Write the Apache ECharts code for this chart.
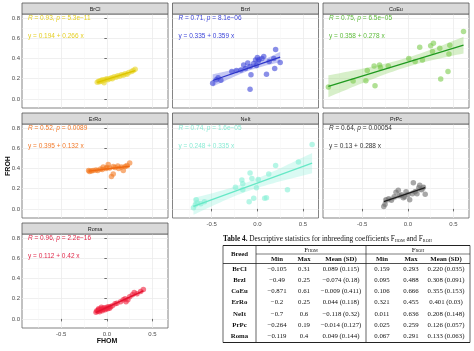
<!DOCTYPE html>
<html>
<head>
<meta charset="utf-8">
<script src="https://cdn.jsdelivr.net/npm/echarts@6/dist/echarts.min.js"></script>
<style>
  html, body { margin: 0; padding: 0; background: #fff; }
  #main { width: 474px; height: 351px; }
</style>
</head>
<body>
<div id="main"></div>
<script>
// ---- data ----
const breeds = ['BrCl', 'Brzl', 'CoEu', 'ErRo', 'NeIt', 'PrPc', 'Roma'];

// [FHOM, FROH] per animal
const brclPts = [[-0.105,0.165],[-0.09,0.175],[-0.08,0.17],[-0.07,0.18],[-0.06,0.176],[-0.05,0.19],[-0.04,0.18],[-0.03,0.159],[-0.02,0.192],[0.0,0.2],[0.01,0.19],[0.03,0.2],[0.05,0.21],[0.06,0.2],[0.08,0.22],[0.1,0.215],[0.12,0.23],[0.14,0.225],[0.16,0.24],[0.18,0.235],[0.2,0.25],[0.22,0.245],[0.24,0.26],[0.27,0.27],[0.29,0.28],[0.31,0.293]];
const brzlPts = [[-0.49,0.155],[-0.45,0.19],[-0.43,0.21],[-0.40,0.185],[-0.28,0.27],[-0.23,0.28],[-0.18,0.285],[-0.15,0.335],[-0.13,0.30],[-0.105,0.355],[-0.08,0.32],[-0.07,0.24],[-0.08,0.095],[-0.04,0.35],[-0.02,0.385],[0.0,0.41],[-0.01,0.33],[0.01,0.375],[0.02,0.39],[0.07,0.42],[0.10,0.245],[0.13,0.37],[0.20,0.488],[0.19,0.30],[0.25,0.36],[0.18,0.40],[0.05,0.40]];
const coeuPts = [[-0.871,0.118],[-0.60,0.177],[-0.46,0.18],[-0.445,0.28],[-0.37,0.325],[-0.36,0.13],[-0.31,0.335],[-0.30,0.31],[-0.215,0.325],[0.01,0.40],[0.08,0.37],[0.16,0.385],[0.13,0.51],[0.25,0.525],[0.28,0.55],[0.27,0.47],[0.35,0.50],[0.36,0.197],[0.44,0.27],[0.45,0.445],[0.46,0.53],[0.61,0.666]];
const erroPts = [[-0.20,0.38],[-0.19,0.37],[-0.17,0.375],[-0.15,0.38],[-0.12,0.385],[-0.10,0.38],[-0.07,0.395],[-0.05,0.39],[-0.04,0.415],[-0.01,0.40],[0.0,0.41],[0.015,0.44],[0.03,0.405],[0.05,0.321],[0.07,0.345],[0.07,0.42],[0.09,0.41],[0.12,0.425],[0.13,0.40],[0.16,0.415],[0.18,0.38],[0.2,0.42],[0.22,0.43],[0.25,0.455]];
const neitPts = [[-0.70,0.011],[-0.68,0.04],[-0.66,0.06],[-0.67,0.09],[-0.62,0.05],[-0.58,0.07],[-0.24,0.215],[-0.17,0.285],[-0.16,0.19],[-0.16,0.25],[-0.08,0.355],[-0.06,0.30],[-0.09,0.07],[-0.04,0.105],[-0.01,0.21],[0.01,0.29],[0.08,0.105],[0.10,0.11],[0.125,0.345],[0.2,0.43],[0.33,0.19],[0.45,0.465],[0.60,0.636]];
const prpcPts = [[-0.264,0.025],[-0.25,0.045],[-0.24,0.09],[-0.21,0.10],[-0.18,0.085],[-0.15,0.12],[-0.13,0.165],[-0.105,0.185],[-0.09,0.13],[-0.07,0.14],[-0.05,0.11],[-0.035,0.12],[-0.02,0.17],[0.0,0.14],[0.02,0.09],[0.05,0.15],[0.06,0.259],[0.08,0.17],[0.10,0.15],[0.12,0.21],[0.13,0.235],[0.15,0.19],[0.17,0.215],[0.19,0.145]];
const romaPts = [[-0.119,0.067],[-0.11,0.08],[-0.10,0.075],[-0.09,0.09],[-0.08,0.07],[-0.07,0.085],[-0.06,0.1],[-0.05,0.08],[-0.04,0.095],[-0.03,0.11],[-0.02,0.09],[-0.01,0.1],[0.0,0.115],[0.01,0.1],[0.02,0.12],[0.03,0.105],[-0.06,0.115],[-0.09,0.1],[0.04,0.12],[0.06,0.13],[0.09,0.15],[0.11,0.155],[0.15,0.17],[0.18,0.19],[0.2,0.2],[0.21,0.17],[0.23,0.19],[0.25,0.22],[0.28,0.24],[0.30,0.26],[0.33,0.25],[0.37,0.27],[0.4,0.291]];
const allPts = [brclPts, brzlPts, coeuPts, erroPts, neitPts, prpcPts, romaPts];

const corLabels = ['0.93|5.3e\u221211', '0.71|8.1e\u221206', '0.75|6.5e\u221205', '0.52|0.0089', '0.74|1.6e\u221205', '0.64|0.00054', '0.96|2.2e\u221216'];
const eqLabels = ['y = 0.194 + 0.266 x', 'y = 0.335 + 0.359 x', 'y = 0.358 + 0.278 x', 'y = 0.395 + 0.132 x', 'y = 0.248 + 0.335 x', 'y = 0.13 + 0.288 x', 'y = 0.112 + 0.42 x'];

const xTicks = [-0.5, 0, 0.5];
const yTicks = [0, 0.2, 0.4, 0.6, 0.8];

// table 4
const fhomMin  = ['\u22120.105', '\u22120.49', '\u22120.871', '\u22120.2', '\u22120.7', '\u22120.264', '\u22120.119'];
const fhomMax  = ['0.31', '0.25', '0.61', '0.25', '0.6', '0.19', '0.4'];
const fhomMean = ['0.089 (0.115)', '\u22120.074 (0.18)', '\u22120.009 (0.411)', '0.044 (0.118)', '\u22120.118 (0.32)', '\u22120.014 (0.127)', '0.049 (0.144)'];
const frohMin  = ['0.159', '0.095', '0.106', '0.321', '0.011', '0.025', '0.067'];
const frohMax  = ['0.293', '0.488', '0.666', '0.455', '0.636', '0.259', '0.291'];
const frohMean = ['0.220 (0.035)', '0.308 (0.091)', '0.355 (0.153)', '0.401 (0.03)', '0.208 (0.148)', '0.126 (0.057)', '0.133 (0.063)'];

// ---- styles ----
const pointColors = ['#E8D323', '#3C44D8', '#7CCB4C', '#F47A22', '#86F0D6', '#6E6E6E', '#F0213E'];
const lineColors  = ['#DCC400', '#2B33C8', '#1F991F', '#F06A12', '#66E8C6', '#1E1E1E', '#E3122F'];
const textColors  = ['#E5CF25', '#3C44D8', '#5DBB3A', '#F27A2A', '#8CEBD5', '#333333', '#E0294A'];

const colLeft = [22, 172.5, 323];
const rowTop = [3, 113, 223];
const stripH = 11, panelW = 146, panelH = 94;
const panelCol = [0, 1, 2, 0, 1, 2, 0];
const panelRow = [0, 0, 0, 1, 1, 1, 2];
const showX = [false, false, false, false, true, true, true];
const showY = [true, false, false, true, false, false, true];
const sans = 'Liberation Sans';
const serif = 'Liberation Serif';

// least squares fit with 95% band
function fitLine(p) {
  const n = p.length;
  let mx = 0, my = 0;
  p.forEach(d => { mx += d[0]; my += d[1]; });
  mx /= n; my /= n;
  let sxx = 0, sxy = 0;
  p.forEach(d => { sxx += (d[0] - mx) ** 2; sxy += (d[0] - mx) * (d[1] - my); });
  const b = sxy / sxx, a = my - b * mx;
  let ss = 0;
  p.forEach(d => { ss += (d[1] - a - b * d[0]) ** 2; });
  const s = Math.sqrt(ss / (n - 2));
  const t = 1.96 + 2.4 / (n - 2);
  const xs = p.map(d => d[0]);
  const x0 = Math.min(...xs), x1 = Math.max(...xs);
  const up = [], lo = [];
  for (let k = 0; k <= 40; k++) {
    const x = x0 + (x1 - x0) * k / 40;
    const se = s * Math.sqrt(1 / n + (x - mx) ** 2 / sxx);
    up.push([x, a + b * x + t * se]);
    lo.push([x, a + b * x - t * se]);
  }
  return { line: [[x0, a + b * x0], [x1, a + b * x1]], up, lo };
}

const grids = [], xAxes = [], yAxes = [], series = [], graphics = [];

breeds.forEach((name, i) => {
  const left = colLeft[panelCol[i]];
  const top = rowTop[panelRow[i]] + stripH;
  grids.push({ left, top, width: panelW, height: panelH, show: true,
    borderColor: '#666', borderWidth: 0.8, backgroundColor: '#fff' });
  xAxes.push({
    gridIndex: i, type: 'value', min: -0.93, max: 0.67, splitNumber: 3,
    axisLine: { show: false },
    axisTick: { show: showX[i], length: 2.5, customValues: xTicks, lineStyle: { color: '#333', width: 0.7 } },
    axisLabel: { show: showX[i], customValues: xTicks, fontSize: 6, fontFamily: sans, color: '#4D4D4D', margin: 3,
      formatter: v => v.toFixed(1) },
    splitLine: { lineStyle: { color: '#EBEBEB', width: 0.8 } },
    minorTick: { show: false, splitNumber: 2 },
    minorSplitLine: { show: true, lineStyle: { color: '#F4F4F4', width: 0.5 } }
  });
  yAxes.push({
    gridIndex: i, type: 'value', min: -0.09, max: 0.84, splitNumber: 5,
    axisLine: { show: false },
    axisTick: { show: showY[i], length: 2.5, customValues: yTicks, lineStyle: { color: '#333', width: 0.7 } },
    axisLabel: { show: showY[i], customValues: yTicks, fontSize: 6, fontFamily: sans, color: '#4D4D4D', margin: 2,
      formatter: v => v.toFixed(1) },
    splitLine: { lineStyle: { color: '#EBEBEB', width: 0.8 } },
    minorTick: { show: false, splitNumber: 2 },
    minorSplitLine: { show: true, lineStyle: { color: '#F4F4F4', width: 0.5 } }
  });

  const f = fitLine(allPts[i]);
  series.push({
    type: 'scatter', xAxisIndex: i, yAxisIndex: i, data: allPts[i], symbolSize: 5.5, silent: true,
    itemStyle: { color: pointColors[i], opacity: 0.6 }, z: 2
  });
  series.push({
    type: 'custom', xAxisIndex: i, yAxisIndex: i, data: [[0, 0]], silent: true, z: 3,
    renderItem: (params, api) => {
      const pts = f.up.map(d => api.coord(d)).concat(f.lo.slice().reverse().map(d => api.coord(d)));
      return { type: 'polygon', shape: { points: pts }, style: { fill: pointColors[i], opacity: 0.3 } };
    }
  });
  series.push({
    type: 'line', xAxisIndex: i, yAxisIndex: i, data: f.line, symbol: 'none', silent: true, z: 4,
    lineStyle: { color: lineColors[i], width: 1.3 }
  });

  // strip
  graphics.push({ type: 'rect', shape: { x: left, y: rowTop[panelRow[i]], width: panelW, height: stripH },
    style: { fill: '#D9D9D9', stroke: '#555', lineWidth: 0.8 }, z: 10 });
  graphics.push({ type: 'text', x: left + panelW / 2, y: rowTop[panelRow[i]] + stripH / 2 + 0.5,
    style: { text: name, fontSize: 5.5, fontFamily: sans, fill: '#1A1A1A', align: 'center', verticalAlign: 'middle' }, z: 11 });

  // stat labels
  const [r, p] = corLabels[i].split('|');
  graphics.push({ type: 'text', x: left + 6, y: top + 4.5,
    style: { text: '{i|R} = ' + r + ', {i|p} = ' + p, fontSize: 6.5, fontFamily: sans, fill: textColors[i],
      verticalAlign: 'middle', rich: { i: { fontStyle: 'italic', fontSize: 6.5, fontFamily: sans, fill: textColors[i] } } }, z: 11 });
  graphics.push({ type: 'text', x: left + 6, y: top + 22.5,
    style: { text: eqLabels[i], fontSize: 6.5, fontFamily: sans, fill: textColors[i], verticalAlign: 'middle' }, z: 11 });
});

// axis titles
graphics.push({ type: 'text', x: 8, y: 166, rotation: Math.PI / 2,
  style: { text: 'FROH', fontSize: 7, fontWeight: 'bold', fontFamily: sans, fill: '#111', align: 'center', verticalAlign: 'middle' } });
graphics.push({ type: 'text', x: 107, y: 341,
  style: { text: 'FHOM', fontSize: 7, fontWeight: 'bold', fontFamily: sans, fill: '#111', align: 'center', verticalAlign: 'middle' } });

// ---- table ----
const tL = 223, tR = 470, cBreed = 256, cSep = 366;
const cx = [239.5, 277, 304, 341, 382, 411, 446];
const yTop = 245.5, yGrp = 254, ySub = 263.5, y0 = 269, dy = 11.2, yBot = 342.5;
function tText(x, y, text, opt) {
  graphics.push({ type: 'text', x, y, style: Object.assign({ text, fontSize: 6.8, fontFamily: serif, fill: '#111',
    align: 'center', verticalAlign: 'middle' }, opt || {}) });
}
function tLine(x1, y1, x2, y2, w) {
  graphics.push({ type: 'line', shape: { x1, y1, x2, y2 }, style: { stroke: '#222', lineWidth: w || 0.7 } });
}
graphics.push({ type: 'text', x: tL, y: 239.5,
  style: { text: '{b|Table 4.} Descriptive statistics for inbreeding coefficients F{s|HOM} and F{s|ROH}',
    fontSize: 7.3, fontFamily: serif, fill: '#111', verticalAlign: 'middle',
    rich: { b: { fontWeight: 'bold', fontSize: 7.3, fontFamily: serif, fill: '#111' },
            s: { fontSize: 4.2, fontFamily: serif, fill: '#111', verticalAlign: 'bottom' } } } });
tLine(tL, yTop, tR, yTop, 1);
tLine(cBreed, yGrp, tR, yGrp, 0.6);
tLine(tL, ySub, tR, ySub, 0.8);
tLine(tL, yBot, tR, yBot, 1);
[tL, cBreed, cSep, tR].forEach(x => tLine(x, yTop, x, yBot, 0.7));
tText(cx[0], (yTop + ySub) / 2, 'Breed', { fontWeight: 'bold' });
tText((cBreed + cSep) / 2, (yTop + yGrp) / 2, 'F{s|HOM}', { rich: { s: { fontSize: 4.2, fontFamily: serif, fill: '#111', verticalAlign: 'bottom' } } });
tText((cSep + tR) / 2, (yTop + yGrp) / 2, 'F{s|ROH}', { rich: { s: { fontSize: 4.2, fontFamily: serif, fill: '#111', verticalAlign: 'bottom' } } });
['Min', 'Max', 'Mean (SD)', 'Min', 'Max', 'Mean (SD)'].forEach((h, k) =>
  tText(cx[k + 1], (yGrp + ySub) / 2, h, { fontWeight: 'bold' }));
breeds.forEach((b, r) => {
  const y = y0 + r * dy;
  const row = [b, fhomMin[r], fhomMax[r], fhomMean[r], frohMin[r], frohMax[r], frohMean[r]];
  row.forEach((v, k) => tText(cx[k], y, v, k === 0 ? { fontWeight: 'bold' } : {}));
});

const chart = echarts.init(document.getElementById('main'), null, { renderer: 'canvas' });
chart.setOption({
  animation: false,
  backgroundColor: '#fff',
  grid: grids,
  xAxis: xAxes,
  yAxis: yAxes,
  series,
  graphic: graphics
});
</script>
</body>
</html>
